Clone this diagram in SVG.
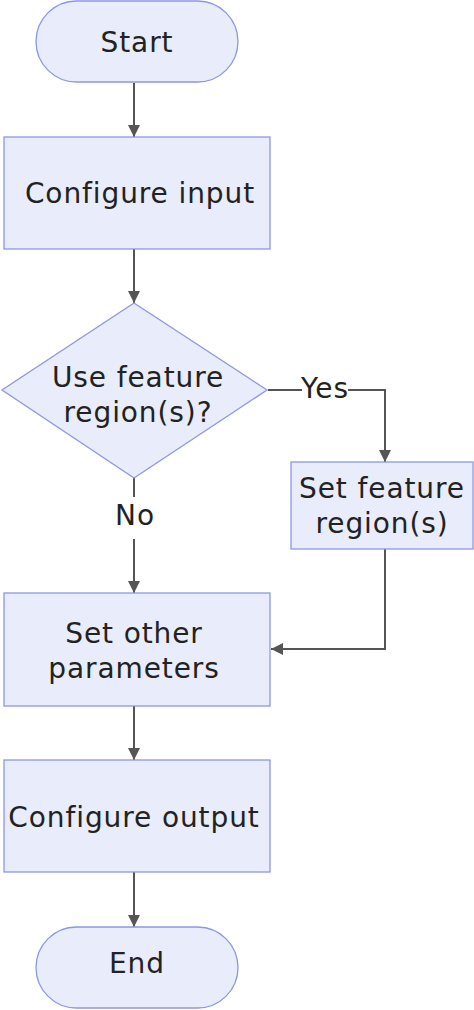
<svg xmlns="http://www.w3.org/2000/svg" width="474" height="1010" viewBox="0 0 474 1010">
<defs>
<marker id="arr" viewBox="0 0 10 10" refX="10" refY="5" markerWidth="12" markerHeight="12" markerUnits="userSpaceOnUse" orient="auto">
<path d="M0,0 L10,5 L0,10 z" fill="#555555"/>
</marker>
<style>
.node{fill:#E8ECFB;stroke:#8E97E0;stroke-width:1.3}
.t{font-family:"DejaVu Sans","Noto Sans",sans-serif;font-size:28px;letter-spacing:0.9px;fill:#222222;text-anchor:middle}
.e{fill:none;stroke:#555555;stroke-width:2}
.lbl{fill:#FFFFFF}
</style>
</defs>
<rect width="474" height="1010" fill="#FFFFFF"/>
<g id="connectors">
<path class="e" d="M134,83 L134,137" marker-end="url(#arr)"/>
<path class="e" d="M134,249 L134,303" marker-end="url(#arr)"/>
<path class="e" d="M268,390 L385,390 L385,462" marker-end="url(#arr)"/>
<path class="e" d="M134,478 L134,593" marker-end="url(#arr)"/>
<path class="e" d="M385,549 L385,649 L271,649" marker-end="url(#arr)"/>
<path class="e" d="M134,706 L134,760" marker-end="url(#arr)"/>
<path class="e" d="M134,872 L134,927" marker-end="url(#arr)"/>
<rect class="lbl" x="302" y="376" width="46" height="28"/>
<text class="t" x="325" y="398">Yes</text>
<rect class="lbl" x="114" y="497" width="42" height="42"/>
<text class="t" x="135" y="525">No</text>
</g>
<g id="start">
<rect class="node" x="36" y="1" width="202" height="81" rx="40.5" ry="40.5"/>
<text class="t" x="137" y="52">Start</text>
</g>
<g id="configure-input">
<rect class="node" x="4" y="137" width="266" height="112"/>
<text class="t" x="140" y="203">Configure input</text>
</g>
<g id="decision">
<polygon class="node" points="134,303 267,390 134,478 2,390"/>
<text class="t" x="138" y="387">Use feature</text>
<text class="t" x="138" y="422">region(s)?</text>
</g>
<g id="set-feature">
<rect class="node" x="291" y="462" width="182" height="87"/>
<text class="t" x="382" y="498">Set feature</text>
<text class="t" x="382" y="533">region(s)</text>
</g>
<g id="set-other">
<rect class="node" x="4" y="593" width="266" height="113"/>
<text class="t" x="134" y="643">Set other</text>
<text class="t" x="134" y="678">parameters</text>
</g>
<g id="configure-output">
<rect class="node" x="4" y="760" width="266" height="112"/>
<text class="t" x="134" y="827">Configure output</text>
</g>
<g id="end">
<rect class="node" x="36" y="927" width="202" height="81" rx="40.5" ry="40.5"/>
<text class="t" x="137" y="973">End</text>
</g>
</svg>
